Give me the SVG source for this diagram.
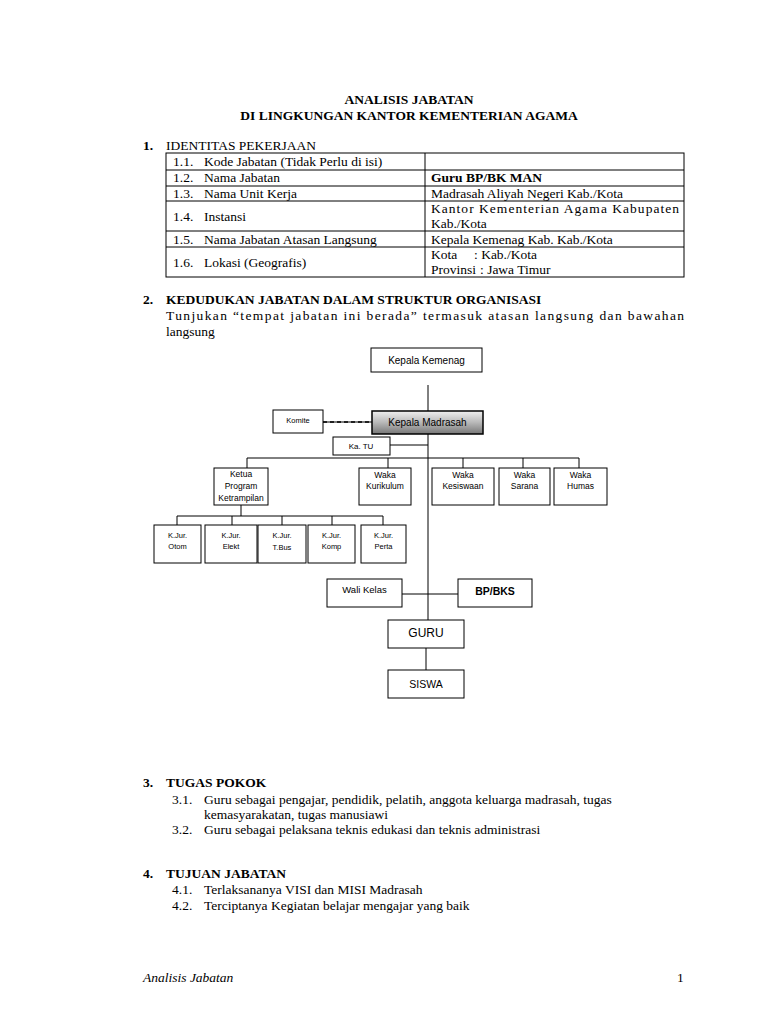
<svg xmlns="http://www.w3.org/2000/svg" width="768" height="1024" viewBox="0 0 768 1024">
<defs>
<style>
.s{font-family:"Liberation Serif",serif;font-size:13.5px;fill:#000}
.b{font-weight:bold}
.a{font-family:"Liberation Sans",Arial,sans-serif;fill:#000;text-anchor:middle}
.bx{fill:#fff;stroke:#000;stroke-width:1}
.ln{stroke:#000;stroke-width:1;fill:none}
</style>
<linearGradient id="g" x1="0" y1="0" x2="0" y2="1">
<stop offset="0" stop-color="#f0f0f0"/><stop offset="0.5" stop-color="#b8b8b8"/><stop offset="1" stop-color="#777"/>
</linearGradient>
</defs>
<rect width="768" height="1024" fill="#fff"/>
<text class="s b" x="409" y="104" text-anchor="middle">ANALISIS JABATAN</text>
<text class="s b" x="409" y="120" text-anchor="middle">DI LINGKUNGAN KANTOR KEMENTERIAN AGAMA</text>
<text class="s" x="143" y="150"><tspan font-weight="bold">1.</tspan><tspan x="166">IDENTITAS PEKERJAAN</tspan></text>
<g id="table">
<rect class="ln" x="166" y="153" width="518" height="124"/>
<path class="ln" d="M425 153V277M166 170H684M166 186H684M166 201H684M166 231H684M166 247H684"/>
<text class="s" x="173" y="166">1.1.<tspan x="204">Kode Jabatan (Tidak Perlu di isi)</tspan></text>
<text class="s" x="173" y="182">1.2.<tspan x="204">Nama Jabatan</tspan></text>
<text class="s b" x="431" y="182">Guru BP/BK MAN</text>
<text class="s" x="173" y="198">1.3.<tspan x="204">Nama Unit Kerja</tspan></text>
<text class="s" x="431" y="198">Madrasah Aliyah Negeri Kab./Kota</text>
<text class="s" x="173" y="221">1.4.<tspan x="204">Instansi</tspan></text>
<text class="s" x="431" y="213" textLength="248">Kantor Kementerian Agama Kabupaten</text>
<text class="s" x="431" y="228">Kab./Kota</text>
<text class="s" x="173" y="244">1.5.<tspan x="204">Nama Jabatan Atasan Langsung</tspan></text>
<text class="s" x="431" y="244">Kepala Kemenag Kab. Kab./Kota</text>
<text class="s" x="173" y="267">1.6.<tspan x="204">Lokasi (Geografis)</tspan></text>
<text class="s" x="431" y="259">Kota<tspan x="474">: Kab./Kota</tspan></text>
<text class="s" x="431" y="274">Provinsi<tspan x="480">: Jawa Timur</tspan></text>
</g>
<text class="s b" x="143" y="304">2.<tspan x="166">KEDUDUKAN JABATAN DALAM STRUKTUR ORGANISASI</tspan></text>
<text class="s" x="166" y="320" textLength="518">Tunjukan “tempat jabatan ini berada” termasuk atasan langsung dan bawahan</text>
<text class="s" x="166" y="336">langsung</text>
<g id="connectors">
<path class="ln" d="M428 385V620M323 422H372M390 445H428M247 458H579M247 458V468M388 458V468M463 458V468M523 458V468M579 458V468M241 505V516M177 516H383M177 516V525M232 516V525M282 516V525M332 516V525M383 516V525M402 594H458M426 648V670"/>
<path class="ln" d="M323 422H372" stroke-dasharray="4,3" stroke="#fff" stroke-width="2"/>
<path class="ln" d="M323 422H372" stroke-dasharray="4,3"/>
</g>
<g id="kemenag"><rect class="bx" x="371" y="348" width="111" height="24"/><text class="a" x="426.5" y="364" font-size="10">Kepala Kemenag</text></g>
<g id="madrasah"><rect x="372" y="411" width="111" height="23" fill="url(#g)" stroke="#000" stroke-width="1.5"/><text class="a" x="427.5" y="426" font-size="10">Kepala Madrasah</text></g>
<g id="komite"><rect class="bx" x="273" y="410" width="50" height="23"/><text class="a" x="298" y="423" font-size="7.5">Komite</text></g>
<g id="katu"><rect class="bx" x="333" y="437" width="57" height="18"/><text class="a" x="361" y="449" font-size="8">Ka. TU</text></g>
<g id="ketua"><rect class="bx" x="214" y="468" width="54" height="37"/><text class="a" font-size="8.5"><tspan x="241" y="477">Ketua</tspan><tspan x="241" y="489">Program</tspan><tspan x="241" y="501">Ketrampilan</tspan></text></g>
<g id="kurikulum"><rect class="bx" x="359" y="468" width="52" height="37"/><text class="a" font-size="8.5"><tspan x="385" y="478">Waka</tspan><tspan x="385" y="489">Kurikulum</tspan></text></g>
<g id="kesiswaan"><rect class="bx" x="432" y="468" width="62" height="37"/><text class="a" font-size="8.5"><tspan x="463" y="478">Waka</tspan><tspan x="463" y="489">Kesiswaan</tspan></text></g>
<g id="sarana"><rect class="bx" x="499" y="468" width="51" height="37"/><text class="a" font-size="8.5"><tspan x="524.5" y="478">Waka</tspan><tspan x="524.5" y="489">Sarana</tspan></text></g>
<g id="humas"><rect class="bx" x="554" y="468" width="53" height="37"/><text class="a" font-size="8.5"><tspan x="580.5" y="478">Waka</tspan><tspan x="580.5" y="489">Humas</tspan></text></g>
<g id="otom"><rect class="bx" x="154" y="525" width="47" height="38"/><text class="a" font-size="7.5"><tspan x="177.5" y="538">K.Jur.</tspan><tspan x="177.5" y="549">Otom</tspan></text></g>
<g id="elekt"><rect class="bx" x="205" y="525" width="52" height="38"/><text class="a" font-size="7.5"><tspan x="231" y="538">K.Jur.</tspan><tspan x="231" y="549">Elekt</tspan></text></g>
<g id="tbus"><rect class="bx" x="258" y="525" width="48" height="38"/><text class="a" font-size="7.5"><tspan x="282" y="538">K.Jur.</tspan><tspan x="282" y="550">T.Bus</tspan></text></g>
<g id="komp"><rect class="bx" x="308" y="525" width="47" height="38"/><text class="a" font-size="7.5"><tspan x="331.5" y="538">K.Jur.</tspan><tspan x="331.5" y="549">Komp</tspan></text></g>
<g id="perta"><rect class="bx" x="361" y="525" width="45" height="38"/><text class="a" font-size="7.5"><tspan x="383.5" y="538">K.Jur.</tspan><tspan x="383.5" y="549">Perta</tspan></text></g>
<g id="wali"><rect class="bx" x="327" y="579" width="75" height="28"/><text class="a" x="364.5" y="593" font-size="9.5">Wali Kelas</text></g>
<g id="bpbks"><rect class="bx" x="458" y="579" width="74" height="28"/><text class="a" x="495" y="595" font-size="10.5" font-weight="bold">BP/BKS</text></g>
<g id="guru"><rect class="bx" x="388" y="620" width="76" height="28"/><text class="a" x="426" y="637" font-size="12">GURU</text></g>
<g id="siswa"><rect class="bx" x="388" y="670" width="76" height="28"/><text class="a" x="426" y="688" font-size="10.5">SISWA</text></g>
<text class="s b" x="143" y="787">3.<tspan x="166">TUGAS POKOK</tspan></text>
<text class="s" x="172" y="804">3.1.<tspan x="204">Guru sebagai pengajar, pendidik, pelatih, anggota keluarga madrasah, tugas</tspan></text>
<text class="s" x="204" y="819">kemasyarakatan, tugas manusiawi</text>
<text class="s" x="172" y="834">3.2.<tspan x="204">Guru sebagai pelaksana teknis edukasi dan teknis administrasi</tspan></text>
<text class="s b" x="143" y="878">4.<tspan x="166">TUJUAN JABATAN</tspan></text>
<text class="s" x="172" y="894">4.1.<tspan x="204">Terlaksananya VISI dan MISI Madrasah</tspan></text>
<text class="s" x="172" y="910">4.2.<tspan x="204">Terciptanya Kegiatan belajar mengajar yang baik</tspan></text>
<text class="s" x="143" y="982" font-style="italic" font-size="11">Analisis Jabatan</text>
<text class="s" x="677" y="982" font-size="11">1</text>
</svg>
